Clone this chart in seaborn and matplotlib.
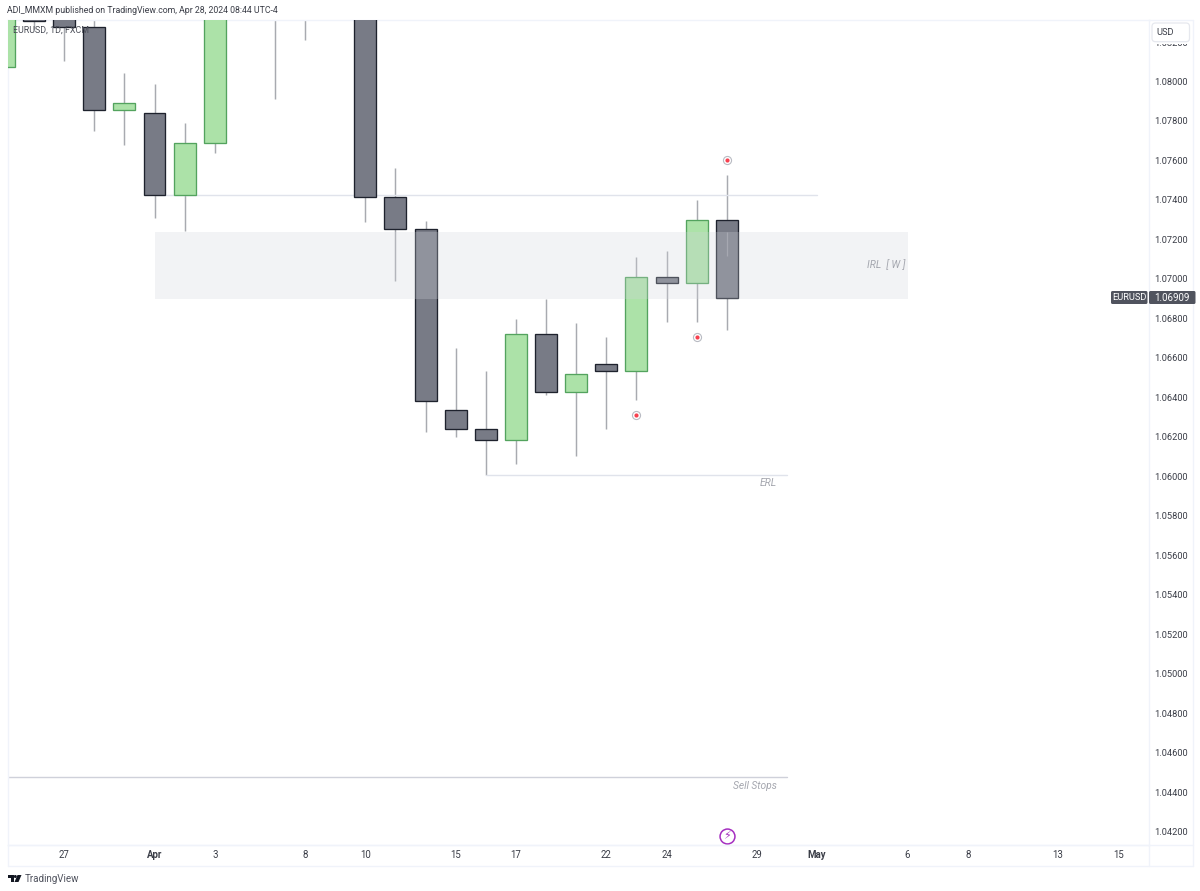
import numpy as np
import pandas as pd
import seaborn as sns
import matplotlib
matplotlib.use("Agg")
import matplotlib.pyplot as plt
from matplotlib.lines import Line2D
from matplotlib.patches import FancyBboxPatch, Rectangle, Polygon, Circle
from matplotlib.transforms import Bbox, IdentityTransform, TransformedBbox

# ---- data ----
dates = ["Mar 25", "Mar 26", "Mar 27", "Mar 28", "Mar 29", "Apr 1", "Apr 2", "Apr 3", "Apr 4", "Apr 5",
         "Apr 8", "Apr 9", "Apr 10", "Apr 11", "Apr 12", "Apr 15", "Apr 16", "Apr 17", "Apr 18", "Apr 19",
         "Apr 22", "Apr 23", "Apr 24", "Apr 25", "Apr 26"]
positions = list(range(-5, 20))
opens = [1.08073, 1.08380, 1.08380, 1.08274, 1.07858, 1.07839, 1.07426, 1.07690, 1.08380, 1.08450,
         1.08400, 1.08500, 1.08600, 1.07416, 1.07254, 1.06336, 1.06238, 1.06182, 1.06722, 1.06428,
         1.06567, 1.06535, 1.07008, 1.06981, 1.07297]
closes = [1.08380, 1.08309, 1.08274, 1.07858, 1.07891, 1.07426, 1.07690, 1.08380, 1.08450, 1.08400,
          1.08500, 1.08600, 1.07416, 1.07254, 1.06380, 1.06238, 1.06182, 1.06722, 1.06428, 1.06518,
          1.06535, 1.07008, 1.06981, 1.07297, 1.06905]
highs = [1.08450, 1.08420, 1.08420, 1.08350, 1.08045, 1.07986, 1.07788, 1.08450, 1.08500, 1.08500,
         1.08550, 1.08650, 1.08650, 1.07560, 1.07293, 1.06648, 1.06533, 1.06795, 1.06898, 1.06775,
         1.06706, 1.07109, 1.07141, 1.07400, 1.07526]
lows = [1.08030, 1.08261, 1.08104, 1.07749, 1.07678, 1.07310, 1.07244, 1.07639, 1.08350, 1.07911,
        1.08210, 1.08350, 1.07287, 1.06989, 1.06223, 1.06200, 1.06008, 1.06060, 1.06413, 1.06104,
        1.06238, 1.06386, 1.06782, 1.06780, 1.06741]

price_ticks = [1.042, 1.044, 1.046, 1.048, 1.050, 1.052, 1.054, 1.056, 1.058, 1.060, 1.062,
               1.064, 1.066, 1.068, 1.070, 1.072, 1.074, 1.076, 1.078, 1.080, 1.082]
time_tick_pos = [-3, 0, 2, 5, 7, 10, 12, 15, 17, 20, 22, 25, 27, 30, 32]
time_tick_labels = ["27", "Apr", "3", "8", "10", "15", "17", "22", "24", "29", "May", "6", "8", "13", "15"]
bold_labels = ["Apr", "May"]
cut_tick_pos, cut_tick_label = -5, "25"

marker_pos = [19, 18, 16]
marker_price = [1.07602, 1.06705, 1.06310]
earnings_pos = [19]
earnings_price = [1.04177]

zone_pos = [0, 25]
zone_price = [1.06898, 1.07240]
level_a_pos, level_a_price = [0, 22], 1.07426
level_erl_pos, level_erl_price = [11, 21], 1.06008
level_stops_pos, level_stops_price = [-8, 21], 1.04476
ghost_pos, ghost_price = [19, 19], [1.07240, 1.07118]
last_price = 1.06909

# ---- colours ----
DARK, DARK_EDGE = "#787B86", "#1E222D"
GREEN, GREEN_EDGE = "#ACE2A8", "#53A35E"
WICK = "#A8AAB0"
BORDER = "#F0F3FA"
LEVEL = "#D1D4DC"
TXT = "#50535E"

sns.set_theme(style="white")
plt.rcParams["font.family"] = ["Roboto", "DejaVu Sans"]

W, H = 1200, 891
fig = plt.figure(figsize=(W / 100, H / 100), dpi=100, facecolor="white")
L, R, T, B = 7.5, 1148.5, 19.5, 845.0
ax = fig.add_axes([L / W, 1 - B / H, (R - L) / W, (B - T) / H], facecolor="white")

df = pd.DataFrame({"date": dates, "pos": positions, "open": opens, "close": closes,
                   "high": highs, "low": lows})
df["base"] = df[["open", "close"]].min(axis=1)
df["size"] = (df["open"] - df["close"]).abs()
df["up"] = df["close"] >= df["open"]

# wicks
wicks = df.melt(id_vars=["date", "pos"], value_vars=["high", "low"], value_name="price")
sns.lineplot(data=wicks, x="pos", y="price", units="date", estimator=None, color=WICK,
             linewidth=1.05, legend=False, ax=ax, zorder=2, solid_capstyle="butt")

# bodies
for is_up, face, edge in [(True, GREEN, GREEN_EDGE), (False, DARK, DARK_EDGE)]:
    sub = df[df["up"] == is_up].sort_values("pos")
    sns.barplot(data=sub, x="pos", y="size", bottom=sub["base"].to_numpy(), native_scale=True,
                width=0.73, color=face, saturation=1, errorbar=None, edgecolor=edge,
                linewidth=0.95, ax=ax, zorder=3)

# zone over the candles
ax.fill_between(zone_pos, zone_price[0], zone_price[1], color=LEVEL, alpha=0.27, lw=0, zorder=4)
ax.plot(ghost_pos, ghost_price, color="#A6A8B1", lw=0.9, zorder=5, solid_capstyle="butt")

# levels
ax.plot(level_a_pos, [level_a_price] * 2, color="#E0E3EB", lw=1.0, zorder=2.5)
ax.plot(level_erl_pos, [level_erl_price] * 2, color="#E0E3EB", lw=1.0, zorder=2.5)
ax.plot(level_stops_pos, [level_stops_price] * 2, color="#CFD1DA", lw=1.0, zorder=2.5)

# markers
mk = pd.DataFrame({"pos": marker_pos, "price": marker_price})
sns.scatterplot(data=mk, x="pos", y="price", s=34, color="white", edgecolor="#B9BBC3",
                linewidth=0.8, legend=False, ax=ax, zorder=6)
sns.scatterplot(data=mk, x="pos", y="price", s=9, color="#F7404F", linewidth=0,
                legend=False, ax=ax, zorder=7)
ek = pd.DataFrame({"pos": earnings_pos, "price": earnings_price})
sns.scatterplot(data=ek, x="pos", y="price", s=115, color="white", edgecolor="#A52EC0",
                linewidth=1.1, legend=False, ax=ax, zorder=6)
ax.text(earnings_pos[0], earnings_price[0], "\u26A1", family="DejaVu Sans", fontsize=8,
        color="#A52EC0", ha="center", va="center", zorder=7)

# annotations
note = dict(style="italic", color="#A5A7AF", fontsize=7.4, va="center", ha="right", zorder=8)
ax.text(24.93, 1.07070, "IRL  [ W ]", **note)
ax.text(20.67, 1.05966, "ERL", **note)
ax.text(20.67, 1.04432, "Sell Stops", **note)

# axes
ax.set_xlabel("")
ax.set_ylabel("")
ax.yaxis.tick_right()
ax.set_yticks(price_ticks)
ax.set_yticklabels([f"{p:.5f}" for p in price_ticks])
ax.set_xticks(time_tick_pos)
ax.set_xticklabels(time_tick_labels)
ax.set_xlim((L - 154.5) / 30.12, (R - 154.5) / 30.12)
ax.set_ylim(1.08 - (B - 81.5) / 19737, 1.08 + (81.5 - T) / 19737)
ax.tick_params(axis="y", length=0, pad=4.4, labelsize=6.7, colors="#3A3D47", labelright=True)
ax.tick_params(axis="x", length=0, pad=3.4, labelsize=6.9, colors="#3A3D47")
ax.grid(False)
for lab in ax.get_xticklabels():
    if lab.get_text() in bold_labels:
        lab.set_fontweight("semibold")
for s in ax.spines.values():
    s.set_color(BORDER)
    s.set_linewidth(1.0)


def fx(x):
    return x / W


def fy(y):
    return 1 - y / H


# date label cut by the left edge of the pane
cut = ax.text(cut_tick_pos, 0, cut_tick_label, transform=ax.get_xaxis_transform(), fontsize=6.9,
              color="#3A3D47", ha="center", va="center", clip_on=False)
cut.set_position((cut_tick_pos, (B - 855) / (B - T)))
cut.set_clip_on(True)
cut.set_clip_box(TransformedBbox(Bbox([[L, 0], [W, H]]), IdentityTransform()))

# outer frame
for (x0, y0, x1, y1) in [(L, 865.5, 1192.5, 865.5), (1192.5, 19.5, 1192.5, 865.5),
                         (R, 845, R, 865.5), (L, 845, L, 865.5), (R, 19.5, 1192.5, 19.5),
                         (L, 845, 1192.5, 845)]:
    fig.add_artist(Line2D([fx(x0), fx(x1)], [fy(y0), fy(y1)], color=BORDER, lw=1.0))

# currency button
fig.add_artist(Rectangle((1152, H - 43.5), 38, 3, transform=IdentityTransform(), facecolor="white",
                         edgecolor="none", zorder=2.9))
fig.add_artist(FancyBboxPatch((1152, H - 41.7), 37.5, 18.7, boxstyle="round,pad=0,rounding_size=3.5",
                              transform=IdentityTransform(), facecolor="white",
                              edgecolor="#E6E8EE", lw=0.9, zorder=3))
fig.text(fx(1165.5), fy(32.5), "USD", fontsize=6.7, color="#3A3D47", ha="center", va="center", zorder=4)

# last price labels
fig.add_artist(FancyBboxPatch((1111, H - 304), 36.5, 13, boxstyle="round,pad=0,rounding_size=1.5",
                              transform=IdentityTransform(), facecolor=TXT, edgecolor="none", zorder=3))
fig.add_artist(FancyBboxPatch((1149, H - 304), 46.5, 13, boxstyle="round,pad=0,rounding_size=1.5",
                              transform=IdentityTransform(), facecolor=TXT, edgecolor="none", zorder=3))
fig.text(fx(1129), fy(297.7), "EURUSD", fontsize=6.7, color="white", ha="center", va="center", zorder=4)
fig.text(fx(1171.5), fy(297.7), f"{last_price:.5f}", fontsize=7.0, color="white", ha="center", va="center", zorder=4)

# header, legend and footer text
fig.text(fx(7), fy(10.5), "ADI_MMXM published on TradingView.com, Apr 28, 2024 08:44 UTC-4",
         fontsize=6.3, color="#3A3D47", ha="left", va="center")
fig.text(fx(13), fy(30.5), "EURUSD, 1D, FXCM", fontsize=6.4, color="#4A4D57", ha="left", va="center", zorder=5)
fig.text(fx(25), fy(878.5), "TradingView", fontsize=7.0, color="#50535E", ha="left", va="center")

# TradingView logo
logo = "#131722"
fig.add_artist(Rectangle((7.5, H - 878), 6, 3, transform=IdentityTransform(), facecolor=logo, edgecolor="none"))
fig.add_artist(Rectangle((10.5, H - 882), 3, 7, transform=IdentityTransform(), facecolor=logo, edgecolor="none"))
fig.add_artist(Circle((15.3, H - 876.5), 1.5, transform=IdentityTransform(), facecolor=logo, edgecolor="none"))
fig.add_artist(Polygon([(17.5, H - 875), (21.5, H - 875), (18.5, H - 882), (14.5, H - 882)],
                       transform=IdentityTransform(), facecolor=logo, edgecolor="none"))

fig.savefig("out.png", dpi=100, facecolor="white")
